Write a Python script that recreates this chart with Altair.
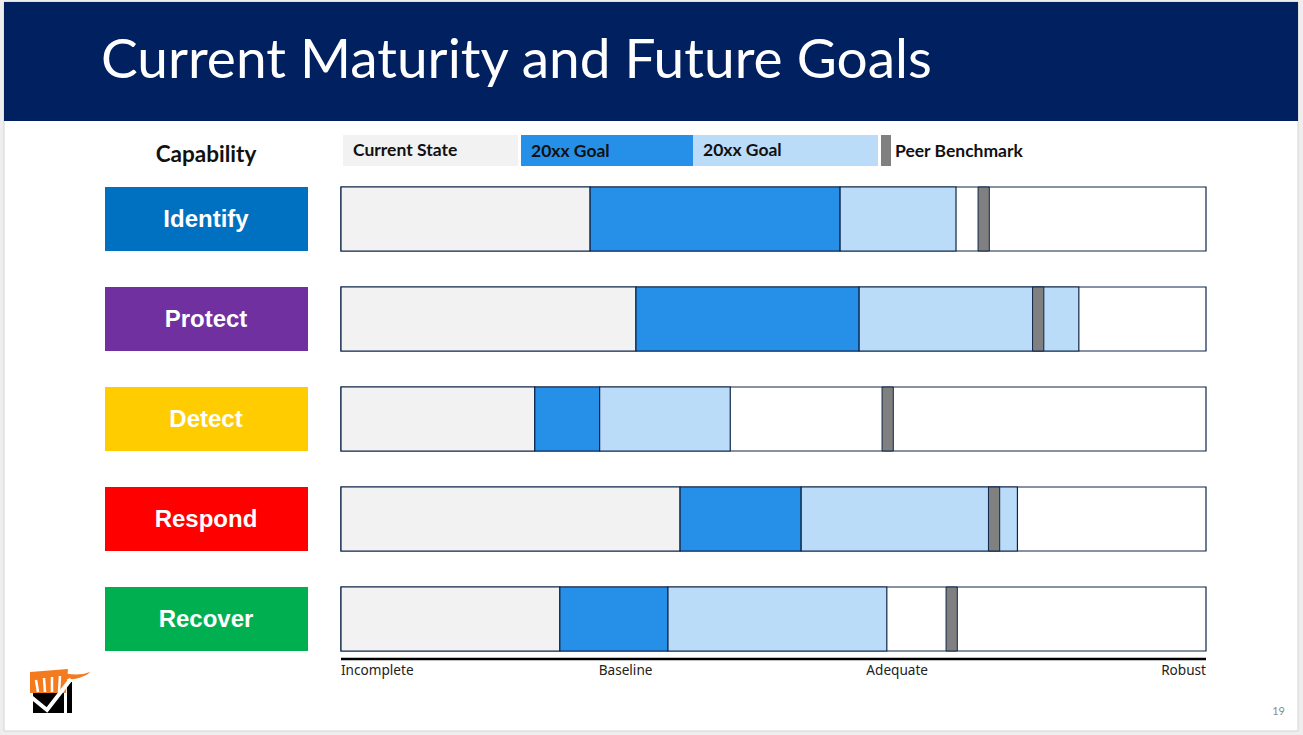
import altair as alt
import pandas as pd

# ---- data -------------------------------------------------------------
capabilities = ["Identify", "Protect", "Detect", "Respond", "Recover"]
capability_colors = ["#0070C0", "#7030A0", "#FFCC00", "#FF0000", "#00B050"]

current_state = [28.8, 34.1, 22.4, 39.2, 25.3]
goal_near = [57.7, 59.9, 29.9, 53.2, 37.8]
goal_far = [71.1, 85.3, 45.0, 78.2, 63.1]
peer_benchmark = [74.3, 80.6, 63.2, 75.5, 70.6]

scale_labels = ["Incomplete", "Baseline", "Adequate", "Robust"]
scale_positions = [0, 32.9, 64.3, 100]
scale_align = ["left", "center", "center", "right"]

legend_labels = ["Current State", "20xx Goal", "20xx Goal", "Peer Benchmark"]
segment_names = ["Current State", "20xx Goal (near)", "20xx Goal (far)"]
segment_colors = ["#F2F2F2", "#2690E8", "#BBDCF8"]

TITLE = "Current Maturity and Future Goals"
PAGE = "19"

NAVY = "#002060"
EDGE = "#0E2548"

# ---- tables built from the arrays above --------------------------------
rows = []
for i, cap in enumerate(capabilities):
    bounds = [0, current_state[i], goal_near[i], goal_far[i]]
    for k, name in enumerate(segment_names):
        rows.append({"capability": cap, "segment": name,
                     "fill": segment_colors[k],
                     "start": bounds[k], "end": bounds[k + 1]})
segments = pd.DataFrame(rows)
frame = pd.DataFrame({"capability": capabilities, "start": 0, "end": 100})
bench = pd.DataFrame({"capability": capabilities, "benchmark": peer_benchmark})
caps = pd.DataFrame({"capability": capabilities, "fill": capability_colors})
ticks = pd.DataFrame({"label": scale_labels, "pos": scale_positions,
                      "align": scale_align})
axis_span = pd.DataFrame({"start": [0], "end": [100]})
one = pd.DataFrame({"k": [0]})

x_scale = alt.Scale(domain=[0, 100], range=[341, 1206])
y_scale = alt.Scale(domain=capabilities, range=[169, 669],
                    paddingInner=0.36, paddingOuter=0.18)
Y = alt.Y("capability:N", scale=y_scale, axis=None)


def box(x, x2, y, y2, color, **kw):
    return alt.Chart(one).mark_rect(color=color, **kw).encode(
        x=alt.value(x), x2=alt.value(x2), y=alt.value(y), y2=alt.value(y2))


def label(text, x, y, **kw):
    return alt.Chart(one).mark_text(text=text, **kw).encode(
        x=alt.value(x), y=alt.value(y))


# ---- slide frame and header ------------------------------------------
slide = box(4, 1298, 2, 731, "white", stroke="#D4D4D4", strokeWidth=1)
header = box(4, 1298, 2, 121, NAVY)
title = label(TITLE, 101, 61, font="Lato", fontSize=55, color="white",
              align="left", baseline="middle")
page_no = label(PAGE, 1285, 712, font="Lato", fontSize=11, color="#8C8C8C",
                align="right", baseline="middle")

# ---- legend row -------------------------------------------------------
legend_style = dict(font="Lato", fontSize=17.5, fontWeight="bold",
                    color="#111111", align="left", baseline="middle")
legend = [
    box(343, 518, 135, 166, "#F2F2F2"),
    box(521, 693, 135, 166, "#2690E8"),
    box(693, 878, 135, 166, "#BBDCF8"),
    box(881, 891, 135, 166, "#808080"),
    label(legend_labels[0], 353, 151, **legend_style),
    label(legend_labels[1], 531, 152, **legend_style),
    label(legend_labels[2], 703, 151, **legend_style),
    label(legend_labels[3], 895, 152, **legend_style),
    label("Capability", 206, 155, font="Lato", fontSize=22.5,
          fontWeight="bold", color="#111111", align="center",
          baseline="middle"),
]

# ---- capability boxes --------------------------------------------------
cap_boxes = alt.Chart(caps).mark_bar().encode(
    x=alt.value(105), x2=alt.value(308), y=Y,
    color=alt.Color("fill:N", scale=None))
cap_text = alt.Chart(caps).mark_text(
    font="Liberation Sans", fontSize=24, fontWeight="bold", color="white",
    align="center", baseline="middle", dy=1).encode(
    x=alt.value(206), y=Y, text="capability:N")

# ---- maturity bars -----------------------------------------------------
outline = alt.Chart(frame).mark_bar(color="white", stroke=EDGE,
                                     strokeWidth=1.2).encode(
    x=alt.X("start:Q", scale=x_scale, axis=None), x2="end:Q", y=Y)
bars = alt.Chart(segments).mark_bar(stroke=EDGE, strokeWidth=1.2).encode(
    x=alt.X("start:Q", scale=x_scale, axis=None), x2="end:Q", y=Y,
    color=alt.Color("fill:N", scale=None))
bench_bars = alt.Chart(bench).transform_calculate(
    lo="datum.benchmark - 0.65", hi="datum.benchmark + 0.65"
).mark_bar(color="#808080", stroke=EDGE, strokeWidth=1).encode(
    x=alt.X("lo:Q", scale=x_scale, axis=None), x2="hi:Q", y=Y)

# ---- maturity scale ---------------------------------------------------
base_line = alt.Chart(axis_span).mark_rule(color="black",
                                           strokeWidth=2.5).encode(
    x=alt.X("start:Q", scale=x_scale, axis=None), x2="end:Q",
    y=alt.value(659))
tick_text = [
    alt.Chart(ticks[ticks["align"] == a]).mark_text(
        font="Noto Sans", fontSize=13.6, color="#222222", align=a,
        baseline="middle").encode(
        x=alt.X("pos:Q", scale=x_scale, axis=None), y=alt.value(671),
        text="label:N")
    for a in ["left", "center", "right"]
]


# ---- logo ---------------------------------------------------------------
def logo_part(path, **kw):
    return alt.Chart(one).mark_point(shape=path, size=4900, opacity=1,
                                     **kw).encode(
        x=alt.value(57), y=alt.value(690))


logo = [
    logo_part("M -0.771 -0.514 L 0.314 -0.6 L 0.257 0.086 L -0.771 0.086 Z",
              filled=True, color="#F47A20"),
    logo_part("M -0.057 -0.571 Q 0.514 -0.343 0.943 -0.514 L 0.886 -0.457 "
              "Q 0.486 -0.229 0.143 -0.343 Z", filled=True, color="#F47A20"),
    logo_part("M -0.686 0.086 L 0.2 0.086 L 0.2 0.657 L -0.686 0.657 Z",
              filled=True, color="black"),
    logo_part("M 0.286 -0.229 L 0.429 -0.229 L 0.429 0.657 L 0.286 0.657 Z",
              filled=True, color="black"),
    logo_part("M -0.543 0.057 L -0.6 -0.286 M -0.343 0.057 L -0.371 -0.343 "
              "M -0.143 0.057 L -0.143 -0.371 M 0.057 0.057 L 0.086 -0.4",
              filled=False, color="white", strokeWidth=2.5),
    logo_part("M -0.914 0.057 L -0.286 0.571 L 0.4 -0.314",
              filled=False, color="white", strokeWidth=4),
]

chart = alt.layer(
    slide, header, title, page_no, *legend,
    cap_boxes, cap_text, outline, bars, bench_bars,
    base_line, *tick_text, *logo,
).properties(
    width=1303, height=735, autosize="none", padding=0,
    background="#EEEEEE",
).configure_view(stroke=None)

chart.save("out.html", embed_options={"renderer": "svg", "actions": False})
